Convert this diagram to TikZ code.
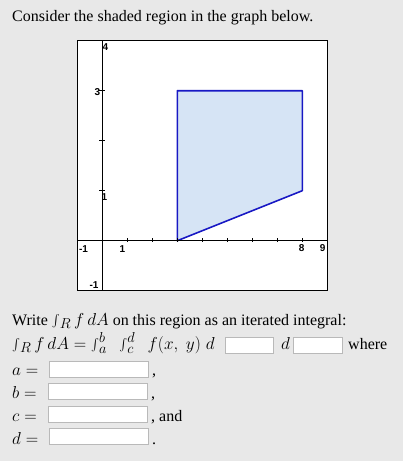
\documentclass[tikz,border=0pt]{standalone}
\usepackage{graphicx}
\usepackage{fontspec}
\setmainfont{Liberation Serif}
\newfontfamily\ticklabelfont{Liberation Sans}
\usetikzlibrary{positioning}
\definecolor{page-gray}{RGB}{232,232,232}
\definecolor{region-blue}{RGB}{214,228,245}
\definecolor{edge-blue}{RGB}{24,24,196}
\definecolor{box-gray}{RGB}{185,185,185}
\newcommand{\mth}[1]{{\fontsize{19}{21}\selectfont$#1$}}
\newcommand{\Int}{\mathop{\vcenter{\hbox{\scalebox{1.2}{$\textstyle\int$}}}}\nolimits}

\begin{document}
\begin{tikzpicture}[x=1pt,y=-1pt,
  txt/.style={anchor=base west,inner sep=0pt,font=\fontsize{16}{18}\selectfont},
  answer/.style={draw=box-gray,fill=white,line width=0.8pt,anchor=north west,inner sep=0pt,minimum height=16pt},
  ticklabel/.style={inner sep=0pt,font=\ticklabelfont\bfseries\fontsize{10}{10}\selectfont}]
\fill[page-gray] (0,0) rectangle (403,461);
\useasboundingbox (0,0) rectangle (403,461);
\node[txt] (title) at (12,21.5) {Consider the shaded region in the graph below.};

\begin{scope}[shift={(102.3,240.7)},x=25pt,y=50pt]
\filldraw[fill=white,draw=black,line width=1pt] (-1,-1) rectangle (9,4);
\filldraw[fill=region-blue,draw=edge-blue,line width=1.6pt,line join=round] (3,0) -- (3,3) -- (8,3) -- (8,1) -- cycle;
\draw[line width=0.8pt] (-1,0) -- (9,0);
\draw[line width=0.8pt] (0,-1) -- (0,4);
\foreach \i in {1,...,8} \draw[line width=0.6pt] (\i,0) ++(0,-1pt) -- ++(0,4pt);
\foreach \j in {1,2,3} \draw[line width=0.6pt] (0,\j) ++(-3pt,0) -- ++(6pt,0);
\end{scope}

\node[ticklabel] (xm1) at (83.5,249) {-1};
\node[ticklabel] (x1) at (122.5,249) {1};
\node[ticklabel] (x8) at (301.7,248) {8};
\node[ticklabel] (x9) at (322.7,248) {9};
\node[ticklabel] (y4) at (105.5,47) {4};
\node[ticklabel] (y3) at (97.5,92) {3};
\node[ticklabel] (y1) at (104.5,197) {1};
\node[ticklabel] (ym1) at (94,285) {-1};

\node[txt] (write) at (12,325) {Write \mth{\Int_R f\,dA} on this region as an iterated integral:};
\node[txt] (iterated) at (12,349) {\mth{\Int_R f\,dA = \Int_a^b\;\;\Int_c^d\;\; f(x,\;y)\;d}};
\node[answer,minimum width=48pt] (inner) at (225,337) {};
\node[txt] (dsecond) at (281,349) {\mth{d}};
\node[answer,minimum width=49pt] (outer) at (293,337) {};
\node[txt] (where) at (348,349) {where};

\node[txt] (alabel) at (12,375) {\mth{a =}};
\node[answer,minimum width=99pt] (abox) at (49,361) {};
\node[txt] (acomma) at (152,375) {,};
\node[txt] (blabel) at (12,398) {\mth{b =}};
\node[answer,minimum width=99pt] (bbox) at (48,383) {};
\node[txt] (bcomma) at (151,398) {,};
\node[txt] (clabel) at (12,421.5) {\mth{c =}};
\node[answer,minimum width=99pt] (cbox) at (48,406) {};
\node[txt] (cand) at (151,421.5) {, and};
\node[txt] (dlabel) at (12,444) {\mth{d =}};
\node[answer,minimum width=99pt] (dbox) at (49,428) {};
\node[txt] (dperiod) at (152,444) {.};
\end{tikzpicture}
\end{document}
